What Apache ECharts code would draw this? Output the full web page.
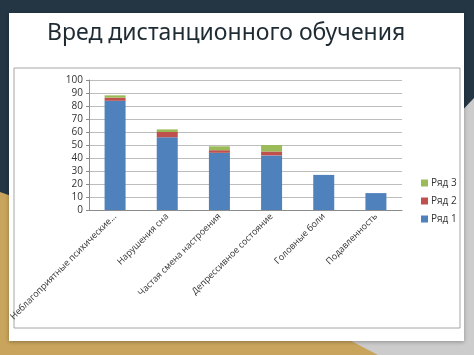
<!DOCTYPE html>
<html>
<head>
<meta charset="utf-8">
<script src="https://cdn.jsdelivr.net/npm/echarts@6/dist/echarts.min.js"></script>
<style>
  html, body { margin: 0; padding: 0; background: #243644; }
  #chart { width: 474px; height: 355px; }
</style>
</head>
<body>
<div id="chart"></div>
<script>
// данные диаграммы
const categories = [
  "Неблагоприятные психические...",
  "Нарушения сна",
  "Частая смена настроения",
  "Депрессивное состояние",
  "Головные боли",
  "Подавленность"
];
const row1 = [84, 56, 44, 42, 27, 13];
const row2 = [2.4, 4, 2, 3, 0, 0];
const row3 = [1.8, 2, 3, 5, 0, 0];
const yTicks = { min: 0, max: 100, interval: 10 };

const chart = echarts.init(document.getElementById("chart"));

const labelFont = "'Open Sans', 'Noto Sans', sans-serif";

chart.setOption({
  backgroundColor: "#243644",
  animation: false,
  graphic: [
    // серая подложка справа снизу
    {
      type: "polygon",
      z: -10,
      shape: { points: [[474, 98], [474, 355], [300, 355], [330, 250]] },
      style: { fill: "#cccccc" }
    },
    // золотая фигура снизу слева
    {
      type: "polygon",
      z: -9,
      shape: { points: [[0, 192], [20, 199], [330, 330], [378, 355], [0, 355]] },
      style: { fill: "#c9a45c" }
    },
    // белый слайд
    {
      type: "rect",
      z: -8,
      shape: { x: 9, y: 13, width: 455, height: 328 },
      style: { fill: "#ffffff", shadowBlur: 4, shadowColor: "rgba(0,0,0,0.3)", shadowOffsetY: 1 }
    },
    // рамка диаграммы
    {
      type: "rect",
      z: -7,
      shape: { x: 14, y: 68, width: 446, height: 260 },
      style: { fill: "#ffffff", stroke: "#a6a6a6", lineWidth: 1 }
    },
    {
      type: "text",
      z: 5,
      left: 47,
      top: 22,
      style: {
        text: "Вред дистанционного обучения",
        fill: "#1f2b33",
        font: "23px 'Noto Sans', sans-serif"
      }
    }
  ],
  grid: { left: 89, right: 72, top: 80, bottom: 145 },
  legend: {
    orient: "vertical",
    left: 416,
    top: 173,
    itemWidth: 7,
    itemHeight: 7,
    itemGap: 8,
    icon: "rect",
    z: 10,
    data: ["Ряд 3", "Ряд 2", "Ряд 1"],
    textStyle: { fontSize: 10, color: "#333", fontFamily: labelFont, padding: [0, 0, 0, -2] }
  },
  xAxis: {
    type: "category",
    data: categories,
    z: 10,
    axisLine: { lineStyle: { color: "#8c8c8c" } },
    axisTick: { length: 4, lineStyle: { color: "#8c8c8c" } },
    axisLabel: {
      rotate: 45,
      interval: 0,
      fontSize: 9,
      color: "#333",
      fontFamily: labelFont,
      margin: 5,
      padding: [14, 0, 0, 0]
    }
  },
  yAxis: {
    type: "value",
    min: yTicks.min,
    max: yTicks.max,
    interval: yTicks.interval,
    z: 10,
    axisLine: { show: true, lineStyle: { color: "#8c8c8c" } },
    axisTick: { show: true, length: 3, lineStyle: { color: "#8c8c8c" } },
    splitLine: { lineStyle: { color: "#bdbdbd" } },
    axisLabel: { fontSize: 10, color: "#333", fontFamily: labelFont, margin: 6 }
  },
  series: [
    { name: "Ряд 1", type: "bar", stack: "s", z: 12, data: row1, barWidth: 21, itemStyle: { color: "#4f81bd" } },
    { name: "Ряд 2", type: "bar", stack: "s", z: 12, data: row2, barWidth: 21, itemStyle: { color: "#c0504d" } },
    { name: "Ряд 3", type: "bar", stack: "s", z: 12, data: row3, barWidth: 21, itemStyle: { color: "#9bbb59" } }
  ]
});
</script>
</body>
</html>
